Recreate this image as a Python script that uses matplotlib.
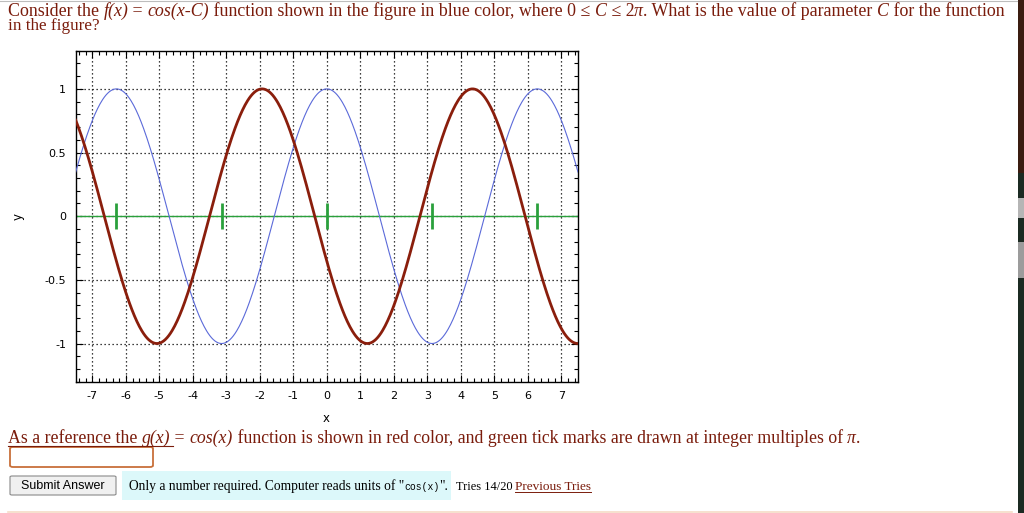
import numpy as np
import matplotlib
matplotlib.use("Agg")
import matplotlib.pyplot as plt
from matplotlib.patches import Rectangle, FancyBboxPatch
from matplotlib.lines import Line2D
from matplotlib.ticker import AutoMinorLocator, FixedLocator

W, H = 1024, 513
plt.rcParams["axes.unicode_minus"] = False

# ---- data ----
x_range = [-7.5, 7.5]
y_range = [-1.3, 1.3]
x_ticks = [-7, -6, -5, -4, -3, -2, -1, 0, 1, 2, 3, 4, 5, 6, 7]
y_ticks = [-1, -0.5, 0, 0.5, 1]
blue_shift = 0.0      # blue curve peaks at x = 0
red_shift = 4.35      # red curve peaks at x ~ 4.35
pi_multiples = [-2, -1, 0, 1, 2]
green_tick_half = 0.1

RED = "#8a1e0c"; BLUE = "#5b6ad9"; GREEN = "#2aa03c"; TXT = "#7a1c0c"
SERIF = ["Liberation Serif", "DejaVu Serif"]
SANS = ["Liberation Sans", "DejaVu Sans"]
MONO = ["Liberation Mono", "DejaVu Sans Mono"]


def fx(x):
    return x / W


def fy(y):
    return 1 - y / H


fig = plt.figure(figsize=(W / 100, H / 100), dpi=100)
r = fig.canvas.get_renderer()


def text_w(s, **kw):
    t = fig.text(0, 0, "|" + s + "|", **kw)
    w1 = t.get_window_extent(r).width
    t.remove()
    t = fig.text(0, 0, "||", **kw)
    w0 = t.get_window_extent(r).width
    t.remove()
    return w1 - w0


def runs(x0, y, parts, size, color, x1=None):
    # parts: list of (text, style); "rel" in style scales that piece's size
    def sz(kw, base):
        return base * kw.get("rel", 1.0)

    def clean(kw):
        return {k: v for k, v in kw.items() if k != "rel"}

    if x1 is not None:
        tot = sum(text_w(s, fontsize=sz(kw, size), **clean(kw)) for s, kw in parts)
        size = size * (x1 - x0) / tot
    x = x0
    spans = []
    for s, kw in parts:
        fs = sz(kw, size)
        fig.text(fx(x), fy(y), s, fontsize=fs, va="baseline", ha="left", color=color, **clean(kw))
        w = text_w(s, fontsize=fs, **clean(kw))
        spans.append((x, x + w))
        x += w
    return spans


N = dict(family=SERIF)
I = dict(family=SERIF, style="italic")

# ---- question text ----
runs(8, 16, [("Consider the ", N), ("f(x)", I), (" = ", N), ("cos(x-C)", I),
             (" function shown in the figure in blue color, where 0 \u2264 ", N), ("C", I),
             (" \u2264 2", N), ("\u03c0", I), (". What is the value of parameter ", N), ("C", I),
             (" for the function", N)], 12.5, TXT, x1=1003)
runs(8, 30, [("in the figure?", N)], 12.3, TXT)
sp = runs(8, 443, [("As a reference the ", N), ("g(x)", I), (" = ", N), ("cos(x)", I),
                   (" function is shown in red color, and green tick marks are drawn at integer multiples of ", N),
                   ("\u03c0", I), (".", N)], 12.5, TXT, x1=864)
fig.add_artist(Line2D([fx(8), fx(sp[1][1] + 3)], [fy(446), fy(446)], color=TXT, lw=0.8))

# ---- form widgets ----
fig.add_artist(FancyBboxPatch((fx(10), fy(467)), fx(143), 20 / H, boxstyle="round,pad=0,rounding_size=0.003",
                              fc="white", ec="#c8703a", lw=1.3, transform=fig.transFigure))
fig.add_artist(FancyBboxPatch((fx(10), fy(495)), fx(106), 19 / H, boxstyle="round,pad=0,rounding_size=0.002",
                              fc="#f0f0f0", ec="#8a8a8a", lw=0.8, transform=fig.transFigure))
fig.text(fx(63), fy(486), "Submit Answer", family=SANS, fontsize=9, ha="center", va="center", color="black")
fig.add_artist(Rectangle((fx(122), fy(500)), fx(329), 29 / H, fc="#dcf8fa", ec="none", transform=fig.transFigure))
runs(129, 490, [("Only a number required. Computer reads units of \"", N),
                ("cos(x)", dict(family=MONO, rel=0.72)), ("\".", N)], 9, "black", x1=448)
runs(456, 490, [("Tries 14/20", N)], 9, "black", x1=512)
runs(515, 490, [("Previous Tries", N)], 9, TXT, x1=591)
fig.add_artist(Line2D([fx(515), fx(591)], [fy(492), fy(492)], color=TXT, lw=0.7))

# page edges
fig.add_artist(Line2D([0, fx(1017)], [fy(0.5), fy(0.5)], color="#bdbdbd", lw=0.8))
fig.add_artist(Line2D([fx(8), fx(1012)], [fy(511.5), fy(511.5)], color="#f5dcc6", lw=1.2))
fig.add_artist(Rectangle((fx(1018), fy(173)), fx(6), 173 / H, fc="#3a1c10", ec="none", transform=fig.transFigure))
fig.add_artist(Rectangle((fx(1018), 0), fx(6), fy(173), fc="#1b2a22", ec="none", transform=fig.transFigure))
fig.add_artist(Rectangle((fx(1018), fy(218)), fx(6), 20 / H, fc="#b5b5b5", ec="none", transform=fig.transFigure))
fig.add_artist(Rectangle((fx(1018), fy(278)), fx(6), 36 / H, fc="#9c9c9c", ec="none", transform=fig.transFigure))

# ---- the plot ----
ax = fig.add_axes([fx(75.7), fy(381.7), fx(578 - 75.7), (381.7 - 50.7) / H])
xs = np.linspace(x_range[0], x_range[1], 600)
ax.plot(xs, np.cos(xs - blue_shift), color=BLUE, lw=0.8, zorder=3)
ax.plot(xs, np.cos(xs - red_shift), color=RED, lw=2.0, zorder=4)
ax.axhline(0, color=GREEN, lw=1.0, zorder=2.5)
ax.vlines([k * np.pi for k in pi_multiples], -green_tick_half, green_tick_half, color=GREEN, lw=2, zorder=2.6)

ax.set_xlim(*x_range)
ax.set_ylim(*y_range)
ax.xaxis.set_major_locator(FixedLocator(x_ticks))
ax.yaxis.set_major_locator(FixedLocator(y_ticks))
ax.set_xticklabels([str(v) for v in x_ticks])
ax.set_yticklabels(["%g" % v for v in y_ticks])
ax.xaxis.set_minor_locator(AutoMinorLocator(5))
ax.yaxis.set_minor_locator(AutoMinorLocator(5))
ax.tick_params(which="both", direction="in", top=True, right=True, width=0.8, labelsize=8, colors="black")
ax.tick_params(which="major", length=5, pad=7)
ax.tick_params(which="minor", length=3)
ax.grid(True, which="major", color="black", lw=0.9, linestyle=(0, (1, 2.2)), zorder=1)
for s in ax.spines.values():
    s.set_linewidth(1.0)
fig.text(fx(18), fy(216), "y", rotation=90, fontsize=8.5, ha="center", va="center")
fig.text(fx(326), fy(418), "x", fontsize=8.5, ha="center", va="center")

fig.savefig("out.png", dpi=100)
